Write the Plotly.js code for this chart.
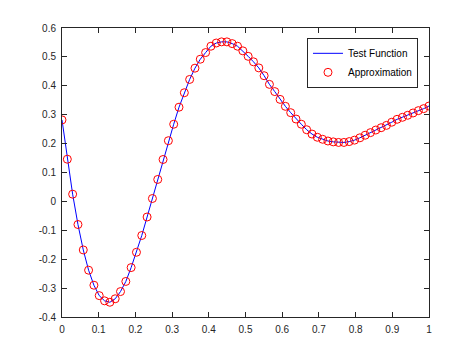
<!DOCTYPE html>
<html>
<head>
<meta charset="utf-8">
<script src="https://cdn.plot.ly/plotly-3.0.1.min.js"></script>
<style>html,body{margin:0;padding:0;background:#fff;}#chart{width:474px;height:356px;}</style>
</head>
<body>
<div id="chart"></div>
<script>
// 70 samples on [0, 1]
const sampleCount = 70;
const xValues = Array.from({length: sampleCount}, (_, i) => i / (sampleCount - 1));

const testFunction = [
  0.282, 0.146, 0.025, -0.080, -0.168, -0.238, -0.290, -0.326, -0.344, -0.349,
  -0.337, -0.312, -0.277, -0.229, -0.176, -0.118, -0.054, 0.010, 0.076, 0.145,
  0.210, 0.267, 0.326, 0.376, 0.422, 0.461, 0.492, 0.515, 0.537, 0.548,
  0.552, 0.552, 0.546, 0.537, 0.521, 0.502, 0.483, 0.462, 0.435, 0.405,
  0.380, 0.353, 0.329, 0.307, 0.285, 0.267, 0.248, 0.233, 0.222, 0.215,
  0.209, 0.206, 0.204, 0.204, 0.207, 0.212, 0.220, 0.229, 0.238, 0.247,
  0.255, 0.263, 0.274, 0.284, 0.291, 0.298, 0.306, 0.314, 0.321, 0.330
];
const approximation = testFunction.slice();

const xTickVals = [0, 0.1, 0.2, 0.3, 0.4, 0.5, 0.6, 0.7, 0.8, 0.9, 1];
const xTickText = ["0", "0.1", "0.2", "0.3", "0.4", "0.5", "0.6", "0.7", "0.8", "0.9", "1"];
const yTickVals = [-0.4, -0.3, -0.2, -0.1, 0, 0.1, 0.2, 0.3, 0.4, 0.5, 0.6];
const yTickText = ["-0.4", "-0.3", "-0.2", "-0.1", "0", "0.1", "0.2", "0.3", "0.4", "0.5", "0.6"];

const axisColor = '#262626';
const fontFamily = 'Liberation Sans, Arial, Helvetica, sans-serif';
const traces = [
  {
    x: xValues, y: testFunction, name: 'Test Function',
    type: 'scatter', mode: 'lines',
    line: {color: '#0000ff', width: 1}
  },
  {
    x: xValues, y: approximation, name: 'Approximation',
    type: 'scatter', mode: 'markers',
    marker: {symbol: 'circle-open', size: 8, color: '#ff0000', line: {width: 1, color: '#ff0000'}}
  }
];

const axisCommon = {
  showgrid: false, zeroline: false,
  showline: true, linecolor: axisColor, linewidth: 1,
  mirror: 'ticks', ticks: 'inside', ticklen: 5, tickwidth: 1, tickcolor: axisColor,
  tickfont: {family: fontFamily, size: 10, color: axisColor}
};

const layout = {
  width: 474, height: 356,
  margin: {l: 61.5, r: 45.3, t: 28, b: 39},
  paper_bgcolor: '#ffffff', plot_bgcolor: '#ffffff',
  showlegend: true,
  legend: {
    x: 0.970, y: 0.966, xanchor: 'right', yanchor: 'top',
    bgcolor: '#ffffff', bordercolor: axisColor, borderwidth: 1,
    font: {family: fontFamily, size: 10, color: '#000000'},
    tracegroupgap: 0
  },
  xaxis: Object.assign({}, axisCommon, {
    range: [0, 1], tickmode: 'array', tickvals: xTickVals, ticktext: xTickText,
    ticklabelstandoff: 3
  }),
  yaxis: Object.assign({}, axisCommon, {
    range: [-0.4, 0.6], tickmode: 'array', tickvals: yTickVals, ticktext: yTickText,
    ticklabelstandoff: 3
  })
};

Plotly.newPlot('chart', traces, layout, {displayModeBar: false, staticPlot: true});
</script>
</body>
</html>
